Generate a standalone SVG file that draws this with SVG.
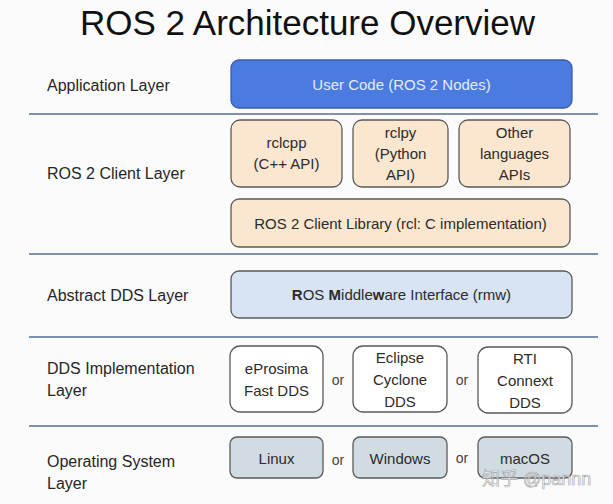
<svg xmlns="http://www.w3.org/2000/svg" width="613" height="504" viewBox="0 0 613 504">
<style>
text{font-family:"Liberation Sans",Arial,sans-serif;font-size:15px;fill:#2b2b2b}
.c{text-anchor:middle}
.lbl{font-size:16px;fill:#262626}
.sep{stroke:#7d93ad;stroke-width:2}
.box{stroke:#5a5a5a;stroke-width:1.3}
.app{fill:#4b7be0;stroke:#3a5ca6;stroke-width:1.3}
.cli{fill:#fbe6cf}
.rmw{fill:#d8e3f3}
.dds{fill:#ffffff}
.os{fill:#d1dbe2}
.or{font-size:14px;fill:#444}
</style>
<rect width="613" height="504" fill="#fbfbfb"/>
<text x="307.5" y="35" class="c" style="font-size:35px;fill:#111" textLength="455" lengthAdjust="spacingAndGlyphs">ROS 2 Architecture Overview</text>
<g id="separators">
<line class="sep" x1="29" y1="114" x2="598" y2="114"/>
<line class="sep" x1="29" y1="254" x2="598" y2="254"/>
<line class="sep" x1="29" y1="337" x2="598" y2="337"/>
<line class="sep" x1="29" y1="426" x2="598" y2="426"/>
</g>
<g id="layer-labels">
<text class="lbl" x="47" y="91">Application Layer</text>
<text class="lbl" x="47" y="179">ROS 2 Client Layer</text>
<text class="lbl" x="47" y="301">Abstract DDS Layer</text>
<text class="lbl" x="47" y="374">DDS Implementation</text>
<text class="lbl" x="47" y="396">Layer</text>
<text class="lbl" x="47" y="467">Operating System</text>
<text class="lbl" x="47" y="489">Layer</text>
</g>
<g id="user-code">
<rect class="app" x="231" y="60" width="341" height="48" rx="8"/>
<text class="c" x="401.5" y="90" style="fill:#e4ebfa">User Code (ROS 2 Nodes)</text>
</g>
<g id="rclcpp">
<rect class="box cli" x="231" y="120" width="111" height="67" rx="9"/>
<text class="c" x="286.5" y="148">rclcpp</text>
<text class="c" x="286.5" y="169">(C++ API)</text>
</g>
<g id="rclpy">
<rect class="box cli" x="353" y="120" width="95" height="67" rx="9"/>
<text class="c" x="400.5" y="138">rclpy</text>
<text class="c" x="400.5" y="159">(Python</text>
<text class="c" x="400.5" y="180">API)</text>
</g>
<g id="other-apis">
<rect class="box cli" x="459" y="120" width="111" height="67" rx="9"/>
<text class="c" x="514.5" y="138">Other</text>
<text class="c" x="514.5" y="159">languages</text>
<text class="c" x="514.5" y="180">APIs</text>
</g>
<g id="rcl">
<rect class="box cli" x="231" y="199" width="339" height="48" rx="8"/>
<text class="c" x="400.5" y="229">ROS 2 Client Library (rcl: C implementation)</text>
</g>
<g id="rmw">
<rect class="box rmw" x="231" y="271" width="341" height="47" rx="8"/>
<text class="c" x="401.5" y="300"><tspan font-weight="bold">R</tspan>OS <tspan font-weight="bold">M</tspan>iddle<tspan font-weight="bold">w</tspan>are Interface (rmw)</text>
</g>
<g id="fast-dds">
<rect class="box dds" x="230" y="346" width="93" height="66" rx="10"/>
<text class="c" x="276.5" y="374">eProsima</text>
<text class="c" x="276.5" y="396">Fast DDS</text>
</g>
<g id="cyclone-dds">
<rect class="box dds" x="353" y="346" width="94" height="66" rx="10"/>
<text class="c" x="400" y="363">Eclipse</text>
<text class="c" x="400" y="385">Cyclone</text>
<text class="c" x="400" y="407">DDS</text>
</g>
<g id="connext-dds">
<rect class="box dds" x="478" y="347" width="94" height="66" rx="10"/>
<text class="c" x="525" y="364">RTI</text>
<text class="c" x="525" y="386">Connext</text>
<text class="c" x="525" y="408">DDS</text>
</g>
<g id="linux">
<rect class="box os" x="230" y="437" width="93" height="41" rx="7"/>
<text class="c" x="276.5" y="464">Linux</text>
</g>
<g id="windows">
<rect class="box os" x="353" y="437" width="94" height="41" rx="7"/>
<text class="c" x="400" y="464">Windows</text>
</g>
<g id="macos">
<rect class="box os" x="478" y="437" width="94" height="41" rx="7"/>
<text class="c" x="525" y="464">macOS</text>
</g>
<g id="connectors">
<text class="c or" x="338" y="385">or</text>
<text class="c or" x="462" y="385">or</text>
<text class="c or" x="338" y="465">or</text>
<text class="c or" x="462" y="463">or</text>
</g>
<text x="482" y="485" style="font-family:'Liberation Sans','Noto Sans CJK SC',sans-serif;font-size:18px;fill:#ffffff;stroke:#9a9a9a;stroke-width:0.7;opacity:0.8">知乎 @pannn</text>
</svg>
